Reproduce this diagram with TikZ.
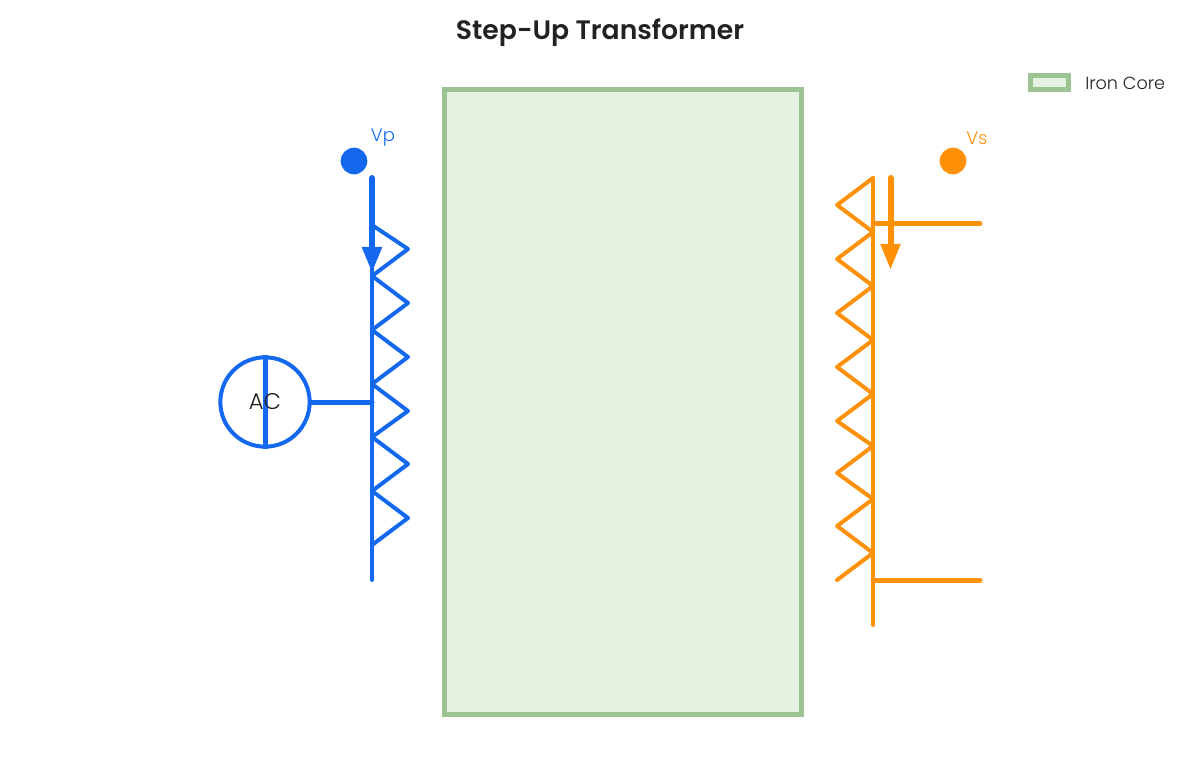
\documentclass[tikz,border=0pt]{standalone}
\usepackage{fontspec}
\setmainfont{Poppins}
\newfontfamily\titlefont{Poppins SemiBold}
\newfontfamily\lightfont{Poppins Light}
\usetikzlibrary{arrows.meta}
\definecolor{bluec}{HTML}{1368EE}
\definecolor{orangec}{HTML}{FF9108}
\definecolor{coreline}{HTML}{9CC392}
\definecolor{corefill}{HTML}{E5F1E1}
\definecolor{inkc}{HTML}{222222}
\tikzset{
  px/.style={line width=#1*0.75pt},
  coil/.style={px=4,line cap=round,line join=round},
  lead/.style={px=5,line cap=round},
  flow/.style={px=6,line cap=round,-{Triangle[length=19.5pt,width=14pt]}},
  corebox/.style={draw=coreline,fill=corefill,px=5},
  dot/.style={circle,inner sep=0pt,minimum size=20pt},
  lbl/.style={font=\lightfont\fontsize{13.5}{16}\selectfont,inner sep=0pt},
}
\begin{document}
\begin{tikzpicture}[x=0.75pt,y=-0.75pt]
\useasboundingbox (0,0) rectangle (1200,763);
\node[font=\titlefont\fontsize{20}{24}\selectfont,text=inkc,inner sep=0pt] (title) at (600,32.5) {Step-Up Transformer};
% iron core
\draw[corebox] (444,90) rectangle (801.5,714.5);
% legend
\draw[corebox] (1030.5,75.5) rectangle (1068.5,89.5);
\node[font=\lightfont\fontsize{13.2}{16}\selectfont,text=inkc,anchor=west,inner sep=0pt] (legend) at (1085,83.5) {Iron Core};
% primary
\coordinate (ptop) at (372,225);
\coordinate (pbot) at (372,580);
\coordinate (pa) at (372,178);
\coordinate (pb) at (372,273);
\draw[coil,bluec] (ptop) -- (pbot);
\draw[coil,bluec] (372,225) -- (408,249) -- (372,276) -- (408,303) -- (372,330) -- (408,357) -- (372,384) -- (408,411) -- (372,437) -- (408,464) -- (372,491) -- (408,518) -- (372,545);
\draw[flow,bluec,fill=bluec] (pa) -- (pb);
\node[dot,fill=bluec] (pdot) at (354,161) {};
\node[lbl,text=bluec] (vp) at (383,138) {Vp};
% AC source
\node[circle,draw=bluec,px=4,minimum size=67pt,inner sep=0pt] (ac) at (265,402) {};
\draw[px=5,line cap=butt,bluec] (ac.north) -- (ac.south);
\node[font=\lightfont\fontsize{17}{20}\selectfont,text=inkc,inner sep=0pt] (aclabel) at (265,402) {AC};
\coordinate (ptap) at (372,402);
\draw[lead,bluec] (ac.east) -- (ptap);
% secondary
\coordinate (stop) at (873,178);
\coordinate (sbot) at (873,625);
\draw[coil,orangec] (stop) -- (sbot);
\draw[coil,orangec] (873,178) -- (837,205) -- (873,232) -- (837,259) -- (873,286) -- (837,313) -- (873,340) -- (837,367) -- (873,394) -- (837,421) -- (873,446) -- (837,473) -- (873,499) -- (837,526) -- (873,553) -- (837,580);
\coordinate (s1a) at (873,223.5);
\coordinate (s1b) at (980,223.5);
\coordinate (s2a) at (873,580.5);
\coordinate (s2b) at (980,580.5);
\draw[lead,orangec] (s1a) -- (s1b);
\draw[lead,orangec] (s2a) -- (s2b);
\coordinate (sa) at (890.5,178);
\coordinate (sb) at (890.5,270);
\draw[flow,orangec,fill=orangec] (sa) -- (sb);
\node[dot,fill=orangec] (sdot) at (953,161) {};
\node[lbl,text=orangec] (vs) at (977,138) {Vs};
\end{tikzpicture}
\end{document}
